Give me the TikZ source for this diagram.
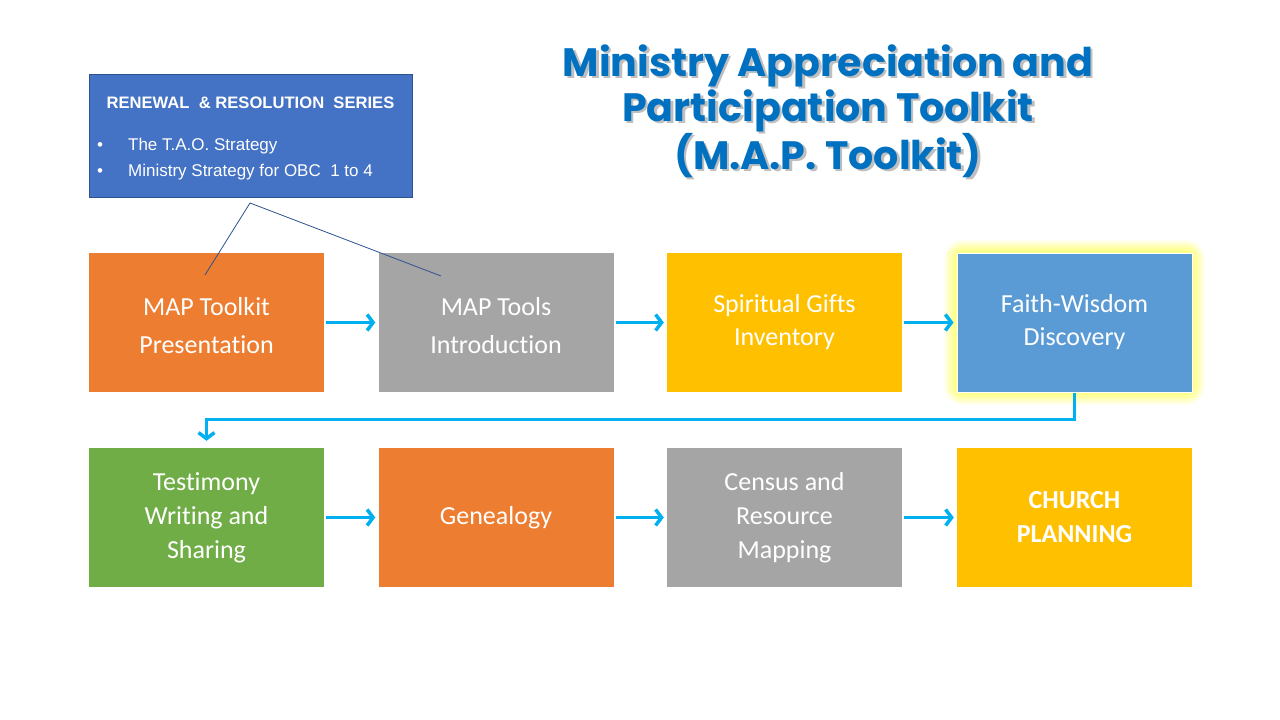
\documentclass[tikz,border=0pt]{standalone}
\usepackage{fontspec}
\setmainfont{Carlito}[Ligatures=NoCommon]
\newfontfamily\arialf{Liberation Sans}
\newfontfamily\titlef{Poppins}[UprightFont=* Bold]
\usetikzlibrary{arrows.meta}
\definecolor{corange}{HTML}{ED7D31}
\definecolor{cgray}{HTML}{A5A5A5}
\definecolor{cgold}{HTML}{FFC000}
\definecolor{cblue}{HTML}{5B9BD5}
\definecolor{cgreen}{HTML}{70AD47}
\definecolor{ccall}{HTML}{4472C4}
\definecolor{ccallb}{HTML}{2F528F}
\definecolor{carrow}{HTML}{00B0F0}
\definecolor{ctitle}{HTML}{0070C0}
\definecolor{cglow}{HTML}{FFFF70}
\begin{document}
\begin{tikzpicture}[x=1pt,y=-1pt,
  stepbox/.style={minimum width=235pt,minimum height=139pt,inner sep=0pt,text=white,
    font=\fontsize{26}{33}\selectfont,align=center},
  widelabel/.style={label={[text=white,font=\fontsize{26}{38}\selectfont,align=center,yshift=-3pt]center:#1}},
  flow/.style={carrow,line width=3.5pt,-{Straight Barb[length=6pt,width=16pt,line width=3.5pt]}},
  calloutline/.style={ccallb,line width=0.8pt}]
\useasboundingbox (0,0) rectangle (1280,720);
\fill[white] (0,0) rectangle (1280,720);
% title shadow and title
\node[text=black!25,font=\titlef\fontsize{39.6}{45.5}\selectfont,align=center] at (830.5,113)
 {Ministry Appreciation and\\Participation Toolkit\\(M.A.P. Toolkit)};
\node (title)[text=ctitle,font=\titlef\fontsize{39.6}{45.5}\selectfont,align=center] at (828,111)
 {Ministry Appreciation and\\Participation Toolkit\\(M.A.P. Toolkit)};
% callout
\node (callout)[fill=ccall,draw=ccallb,line width=0.8pt,minimum width=323pt,minimum height=123pt,inner sep=0pt] at (250.5,135.5) {};
\node (callhead)[text=white,font=\arialf\bfseries\fontsize{16.6}{19}\selectfont] at (250.5,103) {RENEWAL\ \ \& RESOLUTION\ \ SERIES};
\node (b1)[text=white,font=\arialf\fontsize{17}{20}\selectfont,anchor=base west,inner sep=0pt] at (97,150) {\textbullet\hspace{25pt}The T.A.O. Strategy};
\node (b2)[text=white,font=\arialf\fontsize{17}{20}\selectfont,anchor=base west,inner sep=0pt] at (97,176) {\textbullet\hspace{25pt}Ministry Strategy for OBC\ \ 1 to 4};
\coordinate (apex) at (250,203);
\coordinate (t1) at (205,275);
\coordinate (t2) at (441,276);
% glow
\foreach \w/\o in {26/0.12,22/0.15,18/0.2,14/0.25,10/0.3,6/0.35}{
  \draw[cglow,line width=\w pt,opacity=\o,rounded corners=6pt] (957,253) rectangle (1192,392);}
% boxes
\node (n1)[stepbox,fill=corange,widelabel={MAP Toolkit\\Presentation}] at (206.5,322.5) {};
\node (n2)[stepbox,fill=cgray,widelabel={MAP Tools\\Introduction}] at (496,322.5) {};
\node (n3)[stepbox,fill=cgold] at (784.5,322.5) {Spiritual Gifts\\Inventory};
\node (n4)[stepbox,fill=cblue,draw=white,line width=1pt] at (1074.5,322.5) {Faith-Wisdom\\Discovery};
\node (n5)[stepbox,fill=cgreen,font=\fontsize{26}{34}\selectfont] at (206.5,517.5) {Testimony\\Writing and\\Sharing};
\node (n6)[stepbox,fill=corange] at (496,517.5) {Genealogy};
\node (n7)[stepbox,fill=cgray,font=\fontsize{26}{34}\selectfont] at (784.5,517.5) {Census and\\Resource\\Mapping};
\node (n8)[stepbox,fill=cgold,font=\bfseries\fontsize{26}{34}\selectfont] at (1074.5,517.5) {CHURCH\\PLANNING};
% callout lines
\draw[calloutline] (t1) -- (apex) -- (t2);
% arrows
\draw[flow] ([xshift=2pt]n1.east) -- ([xshift=-3pt]n2.west);
\draw[flow] ([xshift=2pt]n2.east) -- ([xshift=-3pt]n3.west);
\draw[flow] ([xshift=2pt]n3.east) -- ([xshift=-3pt]n4.west);
\draw[flow] ([xshift=2pt]n5.east) -- ([xshift=-3pt]n6.west);
\draw[flow] ([xshift=2pt]n6.east) -- ([xshift=-3pt]n7.west);
\draw[flow] ([xshift=2pt]n7.east) -- ([xshift=-3pt]n8.west);
\draw[flow] (n4.south) -- ++(0,27) -| ([yshift=7pt]n5.north);
\end{tikzpicture}
\end{document}
